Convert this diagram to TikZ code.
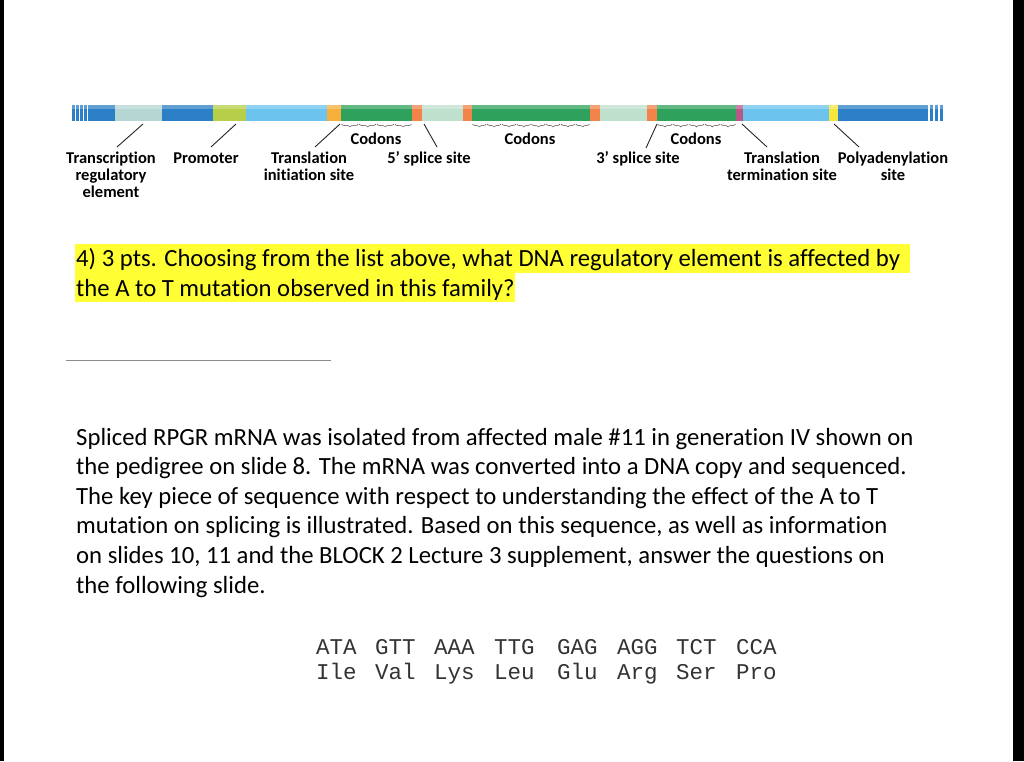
\documentclass[tikz,border=0pt]{standalone}
\usepackage{fontspec}
\setmainfont{Carlito}[Ligatures={NoCommon,NoContextual}]
\newfontfamily\mono{Liberation Mono}
\usetikzlibrary{decorations.pathreplacing}
\definecolor{dblue}{HTML}{2B7FC6}
\definecolor{pteal}{HTML}{B5D6D2}
\definecolor{lime}{HTML}{B7CF48}
\definecolor{lblue}{HTML}{6CC4EE}
\definecolor{orng}{HTML}{F7B03B}
\definecolor{sorng}{HTML}{F2844A}
\definecolor{grn}{HTML}{2EA25C}
\definecolor{pgrn}{HTML}{BFE0CC}
\definecolor{mag}{HTML}{B55A87}
\definecolor{yel}{HTML}{F6E53A}
\definecolor{hl}{HTML}{FFFF33}
\tikzset{lab/.style={font=\fontsize{16.5}{17}\selectfont\bfseries,align=center,inner sep=0pt},
lead/.style={draw=black!85,line width=0.9pt},
para/.style={font=\fontsize{24.7}{26}\selectfont,anchor=base west,inner sep=0pt},
seq/.style={font=\mono\fontsize{22.5}{26}\selectfont,anchor=base west,inner sep=0pt,text=black!80},
brc/.style={decorate,decoration={brace,mirror,amplitude=3pt},draw=black!70,line width=0.5pt}}
\begin{document}
\begin{tikzpicture}[x=1pt,y=-1pt]
\useasboundingbox (0,0) rectangle (1024,761);
\fill[white] (0,0) rectangle (1024,761);
\fill[black] (0,0) rectangle (4,761);
\fill[black] (1013,0) rectangle (1024,761);
% bar
\def\seg#1#2#3{\fill[#3] (#1,105) rectangle (#2,121);}
\foreach \a in {72,76,80,84}{\fill[dblue] (\a,105) rectangle (\a+2.5,121);}
\seg{88}{115}{dblue}\seg{115}{162}{pteal}\seg{162}{213}{dblue}\seg{213}{246}{lime}
\seg{246}{327}{lblue}\seg{327}{341}{orng}\seg{341}{412}{grn}\seg{412}{422}{sorng}
\seg{422}{463}{pgrn}\seg{463}{472}{sorng}\seg{472}{590}{grn}\seg{590}{600}{sorng}
\seg{600}{647}{pgrn}\seg{647}{657}{sorng}\seg{657}{736}{grn}\seg{736}{743}{mag}
\seg{743}{829}{lblue}\seg{829}{838}{yel}\seg{838}{925}{dblue}
\foreach \a in {925,930,935,940}{\fill[dblue] (\a,105) rectangle (\a+2.5,121);}
\fill[white,opacity=0.25] (72,105) rectangle (945,109);
% braces
\foreach \s/\n in {341/4,472/8,657/5}{
 \pgfmathsetmacro\w{(\s==341)*71/4+(\s==472)*118/8+(\s==657)*79/5}
 \foreach \i in {1,...,\n}{\draw[brc] (\s+\w*\i-\w+0.5,124) -- (\s+\w*\i-0.5,124);}}
% leaders
\coordinate (t1) at (143,124);\coordinate (t2) at (117,147);
\draw[lead] (t1)--(t2);
\coordinate (p1) at (236,124);\coordinate (p2) at (211,147);\draw[lead] (p1)--(p2);
\coordinate (i1) at (340,124);\coordinate (i2) at (315,147);\draw[lead] (i1)--(i2);
\coordinate (f1) at (424,124);\coordinate (f2) at (437,147);\draw[lead] (f1)--(f2);
\coordinate (h1) at (657,124);\coordinate (h2) at (646,148);\draw[lead] (h1)--(h2);
\coordinate (e1) at (742,124);\coordinate (e2) at (767,147);\draw[lead] (e1)--(e2);
\coordinate (y1) at (834,124);\coordinate (y2) at (859,147);\draw[lead] (y1)--(y2);
% labels
\node[lab] (tre) at (111,175) {Transcription\\regulatory\\element};
\node[lab] (pro) at (206,158) {Promoter};
\node[lab] (tis) at (309,166.5) {Translation\\initiation site};
\node[lab] (ss5) at (429,159) {5’ splice site};
\node[lab] (c1) at (376,139) {Codons};
\node[lab] (c2) at (530,139) {Codons};
\node[lab] (c3) at (696,139) {Codons};
\node[lab] (ss3) at (638,159) {3’ splice site};
\node[lab] (tts) at (782,166.5) {Translation\\termination site};
\node[lab] (pas) at (893,166.5) {Polyadenylation\\site};
% question
\fill[hl] (75,244) rectangle (910,273);
\fill[hl] (75,273) rectangle (515,302);
\node[para] (q1) at (76,266) {4) 3 pts. Choosing from the list above, what DNA regulatory element is affected by};
\node[para] (q2) at (76,296) {the A to T mutation observed in this family?};
\draw[black!45,line width=0.7pt] (66,360) -- (331,360);
% paragraph
\node[para] (l1) at (76,445) {Spliced RPGR mRNA was isolated from affected male \#11 in generation IV shown on};
\node[para] (l2) at (76,474) {the pedigree on slide 8.  The mRNA was converted into a DNA copy and sequenced.};
\node[para] (l3) at (76,504) {The key piece of sequence with respect to understanding the effect of the A to T};
\node[para] (l4) at (76,533) {mutation on splicing is illustrated.  Based on this sequence, as well as information};
\node[para] (l5) at (76,563) {on slides 10, 11 and the BLOCK 2 Lecture 3 supplement, answer the questions on};
\node[para] (l6) at (76,593) {the following slide.};
% sequence
\foreach \x/\a/\b [count=\k] in {316/ATA/Ile,375/GTT/Val,434/AAA/Lys,494/TTG/Leu,557/GAG/Glu,617/AGG/Arg,676/TCT/Ser,736/CCA/Pro}{
 \node[seq] (d\k) at (\x,654) {\a};
 \node[seq] (a\k) at (\x,679) {\b};}
\end{tikzpicture}
\end{document}
